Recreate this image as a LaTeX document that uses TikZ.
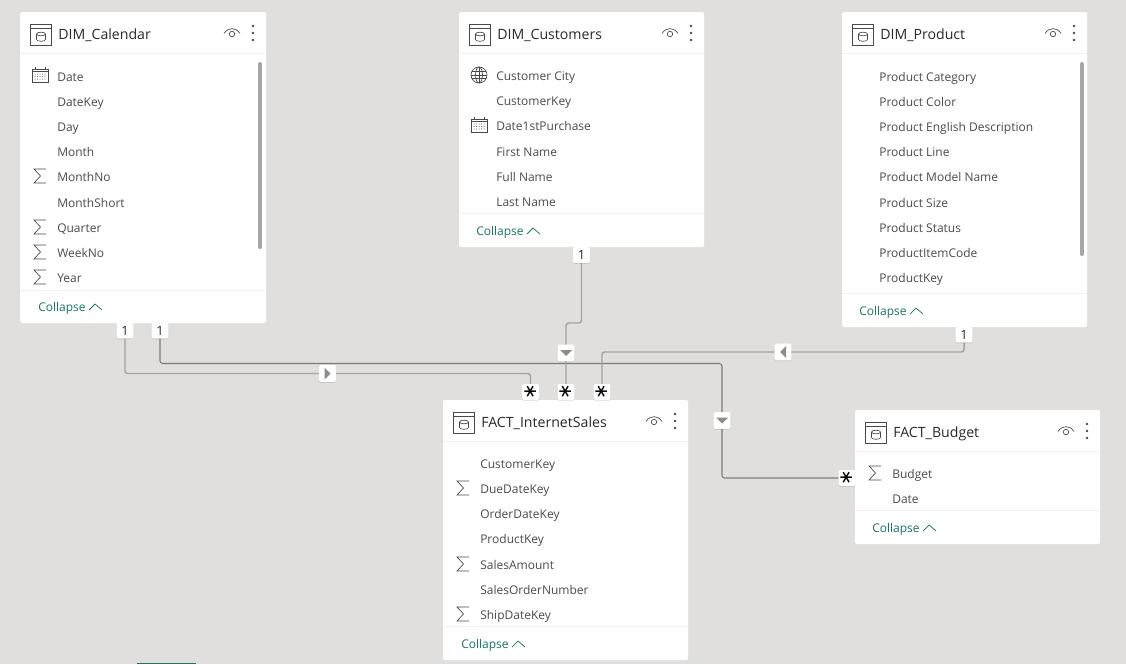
\documentclass[tikz,border=0pt]{standalone}
\usepackage{fontspec}
\setmainfont{Open Sans}
\newfontfamily\starfont{DejaVu Sans}
\usetikzlibrary{backgrounds}
\definecolor{bgc}{HTML}{E0DFDD}
\definecolor{rowc}{HTML}{4C4B4A}
\definecolor{titlec}{HTML}{2A2928}
\definecolor{iconc}{HTML}{4A4948}
\definecolor{teal}{HTML}{1A7562}
\definecolor{relc}{HTML}{A3A3A1}
\definecolor{rdk}{HTML}{7C7C7A}
\definecolor{mrkc}{HTML}{8C8C8A}
\tikzset{
  x=0.75pt,y=-0.75pt,
  card/.style={fill=white,rounded corners=1.5pt,inner sep=0,outer sep=0,draw=none},
  rowlab/.style={anchor=base west,inner sep=0,text=rowc,font=\fontsize{9pt}{10pt}\selectfont},
  titlelab/.style={anchor=base west,inner sep=0,text=titlec,font=\fontsize{10.6pt}{12pt}\selectfont},
  collab/.style={anchor=base west,inner sep=0,text=teal,font=\fontsize{9pt}{10pt}\selectfont},
  softshadow/.style={preaction={fill=black,opacity=.10,transform canvas={yshift=-0.7pt}}},
  badge/.style={softshadow,fill=white,rounded corners=1pt,inner sep=0,outer sep=0,minimum width=12.5pt,minimum height=11.8pt,text=titlec,font=\fontsize{9.6pt}{10pt}\selectfont},
  starbadge/.style={badge,text=black,font=\starfont\fontsize{14pt}{14pt}\selectfont},
  mrk/.style={softshadow,fill=white,rounded corners=1pt,inner sep=0,outer sep=0,minimum width=12.6pt,minimum height=12.6pt},
  rel/.style={draw=relc,line width=1.1pt,rounded corners=2pt},
  relthin/.style={draw=rdk,line width=0.8pt,rounded corners=2pt},
  iconln/.style={draw=iconc,line width=0.75pt},
  thinln/.style={draw=iconc,line width=0.5pt},
  sepln/.style={draw=black!5,line width=0.6pt},
  sbar/.style={draw=black!35,line width=3pt,line cap=round},
}
\newcommand{\starmark}{\smash{\raisebox{-4.5pt}{\rotatebox[origin=c]{90}{∗}}}}
\newcommand{\cardbox}[5]{% name x0 y0 x1 y1
  \node[card,minimum width={(#4-#2)*0.75pt},minimum height={(#5-#3)*0.75pt}] (#1) at ({(#2+#4)/2},{(#3+#5)/2}) {};}
\newcommand{\cardhead}[5]{% x0 x1 y0 title sepy
  \draw[sepln] (#1,{#3+41}) -- (#2,{#3+41});
  \draw[sepln] (#1,#5) -- (#2,#5);
  \begin{scope}[shift={(#1,#3)}]
    \draw[iconln] (10.5,12.5) rectangle (31.5,33.5);
    \draw[iconln] (10.5,16.5) -- (31.5,16.5);
    \draw[thinln] (16.5,22) -- (16.5,27.5) arc[start angle=180,end angle=0,x radius=4.5,y radius=1.8] -- (25.5,22);
    \draw[thinln] (21,22) ellipse[x radius=4.5,y radius=1.8];
    \node[titlelab] at (38,27) {#4};
  \end{scope}
  \begin{scope}[shift={(#2,#3)}]
    \draw[thinln] (-42,21.5) .. controls (-38,15) and (-30,15) .. (-26,21.5);
    \draw[thinln] (-34,22) circle[radius=2.7];
    \fill[iconc] (-13,14) circle[radius=1.3] (-13,21) circle[radius=1.3] (-13,28) circle[radius=1.3];
  \end{scope}}
\newcommand{\collapse}[2]{% x y
  \node[collab] at (#1,{#2+4.8}) {Collapse};
  \draw[teal,line width=0.55pt] ({#1+51},{#2+3.5}) -- ({#1+57},{#2-2.5}) -- ({#1+64},{#2+3.5});}
\newcommand{\rowt}[3]{\node[rowlab] at (#1,{#2+5}) {#3};}
\newcommand{\sigmaicon}[2]{% center
  \draw[thinln,line join=miter] ({#1+6},{#2-7}) -- ({#1-6},{#2-7}) -- ({#1+0.5},{#2}) -- ({#1-6},{#2+7}) -- ({#1+6},{#2+7});}
\newcommand{\calicon}[2]{% center
  \begin{scope}[shift={(#1,#2)}]
    \draw[thinln] (-8,-6) rectangle (8,7);
    \draw[thinln] (-8,-3.5) -- (8,-3.5);
    \draw[thinln] (-5,-8) -- (-5,-6) (5,-8) -- (5,-6);
    \foreach \yy in {-1,1.5,4}{\foreach \xx in {-5,-2.5,0,2.5,5}{\fill[iconc] (\xx,\yy) circle[radius=0.5];}}
  \end{scope}}
\newcommand{\globeicon}[2]{%
  \begin{scope}[shift={(#1,#2)}]
    \draw[thinln] (0,0) circle[radius=8];
    \draw[thinln] (0,0) ellipse[x radius=3.5,y radius=8];
    \draw[thinln] (0,-8) -- (0,8) (-8,0) -- (8,0);
    \draw[thinln] (-7,-3.6) -- (7,-3.6) (-7,3.6) -- (7,3.6);
  \end{scope}}
\newcommand{\marker}[6]{% name x y tri
  \node[mrk] (#1) at (#2,#3) {};
  \fill[mrkc] ([shift={#4}]#1.center) -- ([shift={#5}]#1.center) -- ([shift={#6}]#1.center) -- cycle;}
\begin{document}
\begin{tikzpicture}
\useasboundingbox (0,0) rectangle (1126,664);
\begin{scope}[on background layer]
  \fill[bgc] (0,0) rectangle (1126,664);
  \fill[teal] (136.5,662.8) rectangle (196,664);
\end{scope}

% cards
\cardbox{cal}{20}{12}{266}{323}
\cardbox{cus}{459}{12}{704}{247}
\cardbox{pro}{842}{12}{1087}{327}
\cardbox{fis}{443}{400}{688}{660}
\cardbox{fbu}{855}{410}{1100}{544}

\cardhead{20}{266}{12}{DIM\_Calendar}{290}
\cardhead{459}{704}{12}{DIM\_Customers}{213}
\cardhead{842}{1087}{12}{DIM\_Product}{293}
\cardhead{443}{688}{400}{FACT\_InternetSales}{626}
\cardhead{855}{1100}{410}{FACT\_Budget}{510}

% scrollbars
\draw[sbar] (259.5,64) -- (259.5,247);
\draw[sbar] (1081.5,64) -- (1081.5,254);

% rows
\rowt{57}{76}{Date}\rowt{57}{101}{DateKey}\rowt{57}{126.5}{Day}\rowt{57}{151.5}{Month}\rowt{57}{176.5}{MonthNo}
\rowt{57}{202}{MonthShort}\rowt{57}{227}{Quarter}\rowt{57}{252}{WeekNo}\rowt{57}{277}{Year}
\calicon{40}{75}
\sigmaicon{40}{176}\sigmaicon{40}{227}\sigmaicon{40}{252}\sigmaicon{40}{277}

\rowt{496}{75}{Customer City}\rowt{496}{100.5}{CustomerKey}\rowt{496}{125.5}{Date1stPurchase}
\rowt{496}{151}{First Name}\rowt{496}{176}{Full Name}\rowt{496}{201}{Last Name}
\globeicon{479}{75}
\calicon{479}{125}

\rowt{879}{76}{Product Category}\rowt{879}{101}{Product Color}\rowt{879}{126.5}{Product English Description}
\rowt{879}{151.5}{Product Line}\rowt{879}{176.5}{Product Model Name}\rowt{879}{202}{Product Size}
\rowt{879}{227}{Product Status}\rowt{879}{252}{ProductItemCode}\rowt{879}{277}{ProductKey}

\rowt{480}{463.5}{CustomerKey}\rowt{480}{488.5}{DueDateKey}\rowt{480}{513.5}{OrderDateKey}\rowt{480}{538.5}{ProductKey}
\rowt{480}{564}{SalesAmount}\rowt{480}{589}{SalesOrderNumber}\rowt{480}{614.5}{ShipDateKey}
\sigmaicon{463}{488}\sigmaicon{463}{564}\sigmaicon{463}{614}

\rowt{892}{473.5}{Budget}\rowt{892}{498.5}{Date}
\sigmaicon{875}{473}

\collapse{38}{306.5}
\collapse{476}{230.5}
\collapse{859}{310.5}
\collapse{461}{643.5}
\collapse{872}{527.5}

% cardinality badges
\node[badge] (calA) at (125,330.5) {1};
\node[badge] (calB) at (160,330.5) {1};
\node[badge] (cusA) at (581.5,255) {1};
\node[badge] (proA) at (964,334.5) {1};
\node[starbadge] (fisA) at (530.5,392) {\starmark};
\node[starbadge] (fisB) at (566,392) {\starmark};
\node[starbadge] (fisC) at (602,392) {\starmark};
\node[starbadge] (fbuA) at (847,478) {\starmark};

% direction markers
\marker{mA}{327.5}{373.5}{(-3,-6)}{(3,0)}{(-3,6)}
\marker{mB}{722}{420.5}{(-6,-3)}{(6,-3)}{(0,3)}
\marker{mC}{566}{353}{(-6,-3)}{(6,-3)}{(0,3)}
\marker{mD}{783}{352}{(3,-6)}{(-3,0)}{(3,6)}

\coordinate (bendB) at (722,363.5);
\coordinate (bendC) at (566,323);

% connectors
\begin{scope}[on background layer]
  \draw[rel] (calA.south) |- (mA.center) -| (fisA.north);
  \draw[relthin] (calB.south) |- (bendB) -- (mB.center) |- (fbuA.west);
  \draw[rel] (cusA.south) |- (bendC) -- (mC.center) -- (fisB.north);
  \draw[rel] (proA.south) |- (mD.center) -| (fisC.north);
\end{scope}
\end{tikzpicture}
\end{document}
